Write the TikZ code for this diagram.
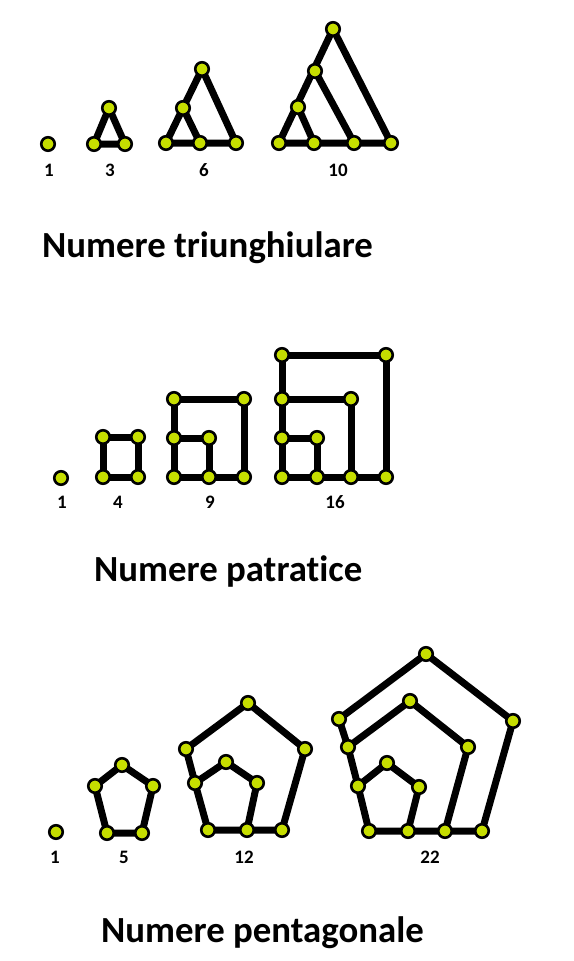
\documentclass[tikz,border=0pt]{standalone}
\usepackage{fontspec}
\setmainfont[Ligatures=NoCommon]{Carlito}
\usetikzlibrary{backgrounds}
\definecolor{beadgreen}{RGB}{198,222,0}
\tikzset{
  bead/.style={circle,draw=black,fill=beadgreen,line width=2.6pt,minimum size=13.5pt,inner sep=0pt},
  bar/.style={line width=7pt,line join=round},
  num/.style={font=\fontsize{19}{19}\selectfont\bfseries,inner sep=0pt},
  heading/.style={font=\fontsize{36.8}{36.8}\selectfont\bfseries,anchor=base west,inner sep=0pt}
}
\begin{document}
\begin{tikzpicture}[x=1pt,y=-1pt]
    \useasboundingbox (0,0) rectangle (573,961);
    % triunghiulare
    \foreach \n/\p in {t1/{(48,144)},
        a1/{(109,108)},a2/{(94,144)},a3/{(125,144)},
        b1/{(202,69)},b2/{(183,108)},b3/{(166,143)},b4/{(200,143)},b5/{(236,143)},
        c1/{(333,29)},c2/{(315,71)},c3/{(298,107)},c4/{(279,143)},c5/{(314,143)},c6/{(354,143)},c7/{(391,143)}}
        \node[bead] (\n) at \p {};
    \begin{scope}[on background layer]
        \draw[bar] (a1.center) -- (a2.center) -- (a3.center) -- cycle;
        \draw[bar] (b3.center) -- (b2.center) -- (b1.center) -- (b5.center) -- (b3.center) -- cycle;
        \draw[bar] (b2.center) -- (b4.center);
        \draw[bar] (c4.center) -- (c1.center) -- (c7.center) -- cycle;
        \draw[bar] (c2.center) -- (c6.center);
        \draw[bar] (c3.center) -- (c5.center);
    \end{scope}
    \node[num] (lt1) at (49,170) {1};
    \node[num] (lt3) at (110,170) {3};
    \node[num] (lt6) at (204,170) {6};
    \node[num] (lt10) at (338,170) {10};
    \node[heading] (ttri) at (42,257) {Numere triunghiulare};
    % patratice
    \foreach \n/\p in {s1/{(61,478)},
        d1/{(103,437)},d2/{(138,437)},d3/{(138,477)},d4/{(103,477)},
        e1/{(174,399)},e2/{(244,399)},e3/{(174,438)},e4/{(209,438)},e5/{(174,477)},e6/{(209,477)},e7/{(244,477)},
        f1/{(282,355)},f2/{(386,355)},f3/{(282,399)},f4/{(351,399)},f5/{(282,438)},f6/{(317,438)},
        f7/{(282,477)},f8/{(317,477)},f9/{(351,477)},f10/{(386,477)}}
        \node[bead] (\n) at \p {};
    \begin{scope}[on background layer]
        \draw[bar] (d1.center) -- (d2.center) -- (d3.center) -- (d4.center) -- cycle;
        \draw[bar] (e5.center) -- (e1.center) -- (e2.center) -- (e7.center) -- cycle;
        \draw[bar] (e3.center) -- (e4.center) -- (e6.center);
        \draw[bar] (f7.center) -- (f1.center) -- (f2.center) -- (f10.center) -- cycle;
        \draw[bar] (f3.center) -- (f4.center) -- (f9.center);
        \draw[bar] (f5.center) -- (f6.center) -- (f8.center);
    \end{scope}
    \node[num] (ls1) at (62,502) {1};
    \node[num] (ls4) at (118,502) {4};
    \node[num] (ls9) at (210,502) {9};
    \node[num] (ls16) at (335,502) {16};
    \node[heading] (tsq) at (94,581) {Numere patratice};
    % pentagonale
    \foreach \n/\p in {p1/{(56,832)},
        g1/{(122,765)},g2/{(153,786)},g3/{(142,833)},g4/{(107,833)},g5/{(95,786)},
        h1/{(248,703)},h2/{(305,749)},h3/{(282,830)},h4/{(208,830)},h5/{(186,749)},
        h6/{(226,762)},h7/{(257,783)},h8/{(247,830)},h9/{(195,783)},
        k1/{(426,654)},k2/{(513,721)},k3/{(482,831)},k4/{(369,831)},k5/{(339,719)},
        k6/{(410,701)},k7/{(468,747)},k8/{(445,831)},k9/{(348,747)},
        k10/{(387,763)},k11/{(419,787)},k12/{(408,831)},k13/{(358,786)}}
        \node[bead] (\n) at \p {};
    \begin{scope}[on background layer]
        \draw[bar] (g1.center) -- (g2.center) -- (g3.center) -- (g4.center) -- (g5.center) -- cycle;
        \draw[bar] (h4.center) -- (h9.center) -- (h5.center) -- (h1.center) -- (h2.center) -- (h3.center) -- cycle;
        \draw[bar] (h9.center) -- (h6.center) -- (h7.center) -- (h8.center);
        \draw[bar] (k4.center) -- (k13.center) -- (k9.center) -- (k5.center) -- (k1.center) -- (k2.center) -- (k3.center) -- cycle;
        \draw[bar] (k9.center) -- (k6.center) -- (k7.center) -- (k8.center);
        \draw[bar] (k13.center) -- (k10.center) -- (k11.center) -- (k12.center);
    \end{scope}
    \node[num] (lp1) at (55,857) {1};
    \node[num] (lp5) at (124,857) {5};
    \node[num] (lp12) at (244,857) {12};
    \node[num] (lp22) at (430,857) {22};
    \node[heading] (tpen) at (101,942) {Numere pentagonale};
\end{tikzpicture}
\end{document}
